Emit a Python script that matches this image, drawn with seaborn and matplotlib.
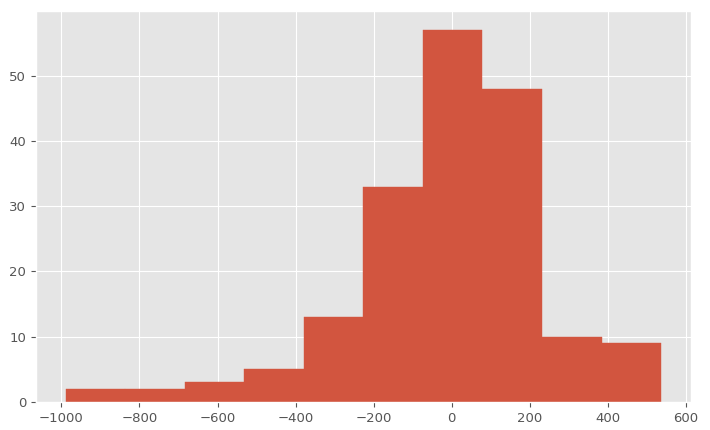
import numpy as np
import seaborn as sns
import matplotlib.pyplot as plt

# bin edges and counts
bin_edges = [-989, -836.4, -683.8, -531.2, -378.6, -226, -73.4, 79.2, 231.8, 384.4, 537]
counts = [2, 2, 3, 5, 13, 33, 57, 48, 10, 9]

plt.style.use('ggplot')

fig = plt.figure(figsize=(7.1, 4.3), dpi=100)
ax = fig.add_axes([0.0507, 0.065, 0.9223, 0.909])

sns.histplot(x=bin_edges[:-1], weights=counts, bins=bin_edges, ax=ax,
             color='#D2553F', alpha=1, edgecolor='#D2553F', linewidth=0.3)

ax.set_ylabel('')
ax.set_xlabel('')
ax.set_xticks([-1000, -800, -600, -400, -200, 0, 200, 400, 600])
ax.set_yticks([0, 10, 20, 30, 40, 50])
ax.tick_params(labelsize=9.5, colors='#555555')

fig.savefig('out.png', dpi=100)
